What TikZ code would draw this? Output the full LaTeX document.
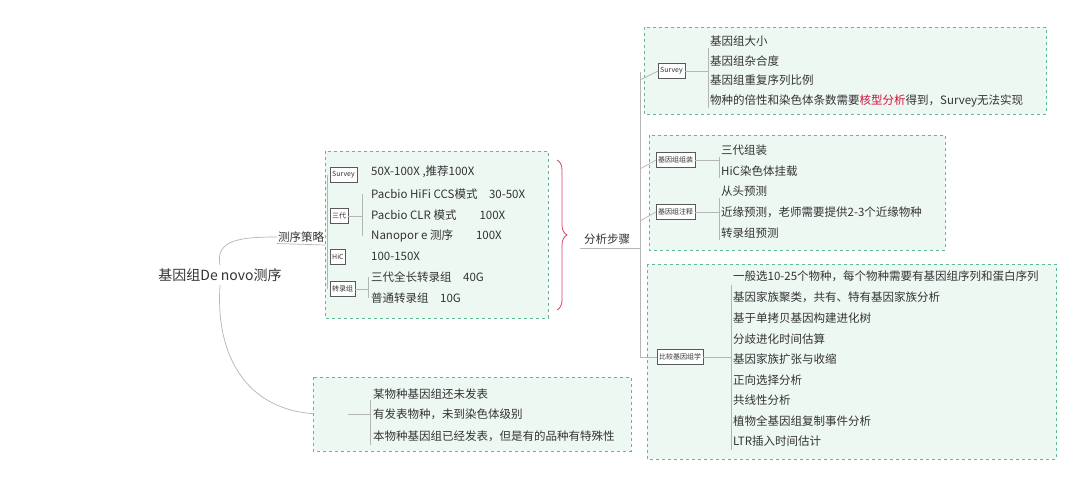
\documentclass[tikz,border=0pt]{standalone}
\usepackage{fontspec}
\setmainfont{Noto Sans CJK SC}
\usetikzlibrary{decorations.pathreplacing}
\definecolor{boxfill}{HTML}{EEF8F3}
\definecolor{boxline}{HTML}{5DBB8E}
\definecolor{lnk}{HTML}{B5B5B5}
\definecolor{txt}{HTML}{333333}
\definecolor{hl}{HTML}{D0103A}
\tikzset{x=1pt,y=-1pt,
 grp/.style={draw=boxline,fill=boxfill,dashed,line width=0.9pt},
 tag/.style={draw=gray!70!black,fill=white,font=\fontsize{7}{8}\selectfont,text=txt,inner sep=2pt,minimum height=15pt,anchor=west},
 item/.style={font=\fontsize{11.5}{13}\selectfont,text=txt,anchor=west,inner sep=1pt},
 lk/.style={draw=lnk,line width=0.7pt}}
\begin{document}
\begin{tikzpicture}
\useasboundingbox[fill=white] (0,0) rectangle (1080,502);
% root
\node[font=\fontsize{14}{16}\selectfont,text=txt] (root) at (220,275) {基因组De novo测序};
\node[item] (cl) at (277,237) {测序策略};
\node[item] (md) at (323,414) {目的};
\draw[lk] (root.north) .. controls (215,240) and (240,237) .. (cl.west);
\draw[lk] (root.south) .. controls (215,360) and (250,414) .. (md.west);
% left box
\draw[grp] (325,151) rectangle (548,318);
\draw[lk] (cl.south west) -- (325,245);
\node[tag] (t1) at (330,175) {Survey};
\node[tag] (t2) at (330,216) {三代};
\node[tag] (t3) at (330,257) {HiC};
\node[tag] (t4) at (330,289) {转录组};
\foreach \n/\y/\t in {a/172/{50X-100X ,推荐100X},b/194/{Pacbio HiFi CCS模式\quad 30-50X},c/215/{Pacbio CLR 模式\qquad 100X},d/236/{Nanopor e 测序\qquad 100X},e/256/{100-150X},f/277/{三代全长转录组\quad 40G},g/298/{普通转录组\quad 10G}}
  \node[item] (L\n) at (370,\y) {\t};
\draw[lk] (327,175) -- (327,289);
\draw[lk] (t2.east) -- (362,216); \draw[lk] (362,194)--(362,236);
\draw[lk] (t4.east) -- (368,289); \draw[lk] (368,277)--(368,298);
% brace
\draw[hl!80,line width=0.8pt,decorate,decoration={brace,amplitude=10pt}] (557,160) -- (557,310);
\node[item] (fx) at (583,239) {分析步骤};
\draw[lk] (580,248) -- (640,248);
\draw[lk] (640,72) -- (640,357);
% top right
\draw[grp] (644,27) rectangle (1046,114);
\node[tag] (s1) at (658,71) {Survey};
\draw[lk] (640,80) -- (s1.west);
\draw[lk] (s1.east) -- (708,71); \draw[lk] (708,48) -- (708,108);
\foreach \y/\t in {41/基因组大小,61/基因组杂合度,80/基因组重复序列比例}
  \node[item] at (709,\y) {\t};
\node[item] at (709,101) {物种的倍性和染色体条数需要\textcolor{hl}{核型分析}得到，Survey无法实现};
% middle
\draw[grp] (649,135) rectangle (945,250);
\node[tag] (s2) at (656,160) {基因组组装};
\node[tag] (s3) at (656,212) {基因组注释};
\draw[lk] (640,169) -- (s2.west); \draw[lk] (640,221) -- (s3.west);
\draw[lk] (s2.east) -- (719,160); \draw[lk] (719,157)--(719,178);
\draw[lk] (s3.east) -- (719,212); \draw[lk] (719,198)--(719,240);
\foreach \y/\t in {150/三代组装,171/HiC染色体挂载,191/从头预测,212/{近缘预测，老师需要提供2-3个近缘物种},233/转录组预测}
  \node[item] at (720,\y) {\t};
% bottom
\draw[grp] (647,264) rectangle (1056,459);
\node[tag] (s4) at (657,357) {比较基因组学};
\draw[lk] (640,357) -- (s4.west);
\draw[lk] (s4.east) -- (731,357); \draw[lk] (731,285)--(731,450);
\foreach \y/\t in {276/{一般选10-25个物种，每个物种需要有基因组序列和蛋白序列},297/{基因家族聚类，共有、特有基因家族分析},318/基于单拷贝基因构建进化树,339/分歧进化时间估算,359/基因家族扩张与收缩,380/正向选择分析,400/共线性分析,421/植物全基因组复制事件分析,441/LTR插入时间估计}
  \node[item] at (732,\y) {\t};
% purpose
\draw[grp] (313,377) rectangle (631,451);
\draw[lk] (md.east) -- (370,414); \draw[lk] (370,400)--(370,445);
\foreach \y/\t in {394/某物种基因组还未发表,414/{有发表物种，未到染色体级别},436/{本物种基因组已经发表，但是有的品种有特殊性}}
  \node[item] at (372,\y) {\t};
\end{tikzpicture}
\end{document}
